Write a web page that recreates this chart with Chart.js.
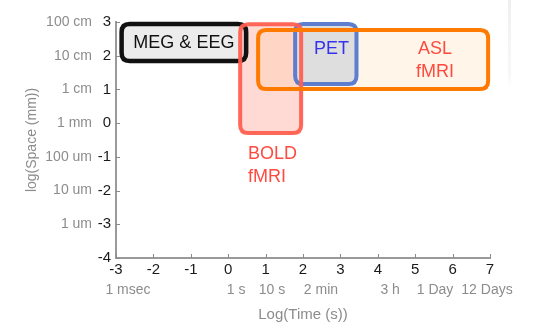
<!DOCTYPE html>
<html>
<head>
<meta charset="utf-8">
<script src="https://cdn.jsdelivr.net/npm/chart.js@4/dist/chart.umd.min.js"></script>
<style>
  html, body { margin: 0; padding: 0; background: #fff; }
  canvas { display: block; }
</style>
</head>
<body>
<canvas id="scaleChart" width="558" height="334"></canvas>
<script>
// Techniques: extent in log10(time in s) and log10(space in mm)
const techniques = ['MEG & EEG', 'BOLD fMRI', 'ASL fMRI', 'PET'];
const timeMin = [-2.85, 0.32, 0.80, 1.79];
const timeMax = [0.48, 1.95, 6.95, 3.43];
const spaceMin = [1.84, -0.29, 1.01, 1.16];
const spaceMax = [2.94, 2.93, 2.76, 2.94];

// Readable units next to the log ticks
const spaceTicks = [3, 2, 1, 0, -1, -2, -3];
const spaceNames = ['100 cm', '10 cm', '1 cm', '1 mm', '100 um', '10 um', '1 um'];
const timeNames = ['1 msec', '1 s', '10 s', '2 min', '3 h', '1 Day', '12 Days'];
const timeNamePos = [-2.68, 0.21, 1.17, 2.48, 4.33, 5.53, 6.92];

const FONT = 'Liberation Sans, Arial, sans-serif';

// look of each box and where its name goes (data units)
const boxStyle = [
  { stroke: '#111111', fill: '#ececec', width: 4.5, text: '#111111', size: 18,
    lines: [['MEG & EEG', null, null]], align: 'center' },
  { stroke: 'rgba(255,95,80,0.95)', fill: 'rgba(255,120,100,0.28)', width: 4, text: '#ff4a40', size: 18,
    lines: [['BOLD', 0.53, -0.92], ['fMRI', 0.53, -1.6]], align: 'left' },
  { stroke: '#ff7a00', fill: 'rgba(255,200,120,0.16)', width: 4, text: '#ff4a40', size: 18,
    lines: [['ASL', 5.53, 2.2], ['fMRI', 5.53, 1.52]], align: 'center' },
  { stroke: 'rgba(85,120,205,0.95)', fill: '#dedede', width: 4, text: '#3333ee', size: 18,
    lines: [['PET', 2.76, 2.2]], align: 'center' }
];
// outlines go on in this order, on top of all the fills
const strokeOrder = [0, 3, 1, 2];

function roundRect(ctx, x, y, w, h, r) {
  ctx.beginPath();
  ctx.moveTo(x + r, y);
  ctx.lineTo(x + w - r, y);
  ctx.quadraticCurveTo(x + w, y, x + w, y + r);
  ctx.lineTo(x + w, y + h - r);
  ctx.quadraticCurveTo(x + w, y + h, x + w - r, y + h);
  ctx.lineTo(x + r, y + h);
  ctx.quadraticCurveTo(x, y + h, x, y + h - r);
  ctx.lineTo(x, y + r);
  ctx.quadraticCurveTo(x, y, x + r, y);
  ctx.closePath();
}

const boxesPlugin = {
  id: 'boxes',
  afterDraw(chart) {
    const ctx = chart.ctx;
    const xs = chart.scales.x, ys = chart.scales.y;
    const boxPath = i => {
      const x0 = xs.getPixelForValue(timeMin[i]);
      const x1 = xs.getPixelForValue(timeMax[i]);
      const y0 = ys.getPixelForValue(spaceMax[i]);
      const y1 = ys.getPixelForValue(spaceMin[i]);
      roundRect(ctx, x0, y0, x1 - x0, y1 - y0, 8);
    };
    ctx.save();

    // faint shadow strip at the right edge of the figure
    const g = ctx.createLinearGradient(0, 0, 0, 95);
    g.addColorStop(0, 'rgba(235,235,235,0.8)');
    g.addColorStop(0.8, 'rgba(240,240,240,0.5)');
    g.addColorStop(1, 'rgba(255,255,255,0)');
    ctx.fillStyle = g;
    ctx.fillRect(508, 0, 3, 95);

    techniques.forEach((name, i) => {
      boxPath(i);
      ctx.fillStyle = boxStyle[i].fill;
      ctx.fill();
    });
    strokeOrder.forEach(i => {
      boxPath(i);
      ctx.lineWidth = boxStyle[i].width;
      ctx.strokeStyle = boxStyle[i].stroke;
      ctx.stroke();
    });

    // box names
    techniques.forEach((name, i) => {
      const st = boxStyle[i];
      ctx.font = st.size + 'px ' + FONT;
      ctx.fillStyle = st.text;
      ctx.textAlign = st.align;
      ctx.textBaseline = 'middle';
      st.lines.forEach(([txt, lx, ly]) => {
        const cx = lx === null ? (timeMin[i] + timeMax[i]) / 2 : lx;
        const cy = ly === null ? (spaceMin[i] + spaceMax[i]) / 2 : ly;
        ctx.fillText(txt, xs.getPixelForValue(cx), ys.getPixelForValue(cy));
      });
    });

    // inward tick marks
    ctx.strokeStyle = '#8a8a8a';
    ctx.lineWidth = 1;
    xs.ticks.forEach(t => {
      const px = Math.round(xs.getPixelForValue(t.value)) + 0.5;
      ctx.beginPath();
      ctx.moveTo(px, xs.top);
      ctx.lineTo(px, xs.top - 4);
      ctx.stroke();
    });
    ys.ticks.forEach(t => {
      const py = Math.round(ys.getPixelForValue(t.value)) + 0.5;
      ctx.beginPath();
      ctx.moveTo(ys.right, py);
      ctx.lineTo(ys.right + 4, py);
      ctx.stroke();
    });

    // unit names
    ctx.font = '14px ' + FONT;
    ctx.fillStyle = '#8c8c8c';
    ctx.textBaseline = 'middle';
    ctx.textAlign = 'right';
    spaceTicks.forEach((v, i) => {
      ctx.fillText(spaceNames[i], ys.right - 24, ys.getPixelForValue(v));
    });
    ctx.textAlign = 'center';
    timeNames.forEach((txt, i) => {
      ctx.fillText(txt, xs.getPixelForValue(timeNamePos[i]), xs.top + 32);
    });
    ctx.restore();
  }
};

new Chart(document.getElementById('scaleChart'), {
  type: 'scatter',
  data: { datasets: [{ data: [] }] },
  options: {
    responsive: false,
    animation: false,
    layout: { padding: { top: 22, right: 68, left: 0, bottom: 0 } },
    plugins: { legend: { display: false }, tooltip: { enabled: false } },
    scales: {
      x: {
        type: 'linear',
        min: -3,
        max: 7,
        afterFit: s => { s.height = 76; },
        ticks: { stepSize: 1, color: '#1a1a1a', font: { family: FONT, size: 15 }, padding: 3 },
        grid: { drawOnChartArea: false, drawTicks: false },
        border: { color: '#9a9a9a', width: 2 },
        title: {
          display: true,
          text: 'Log(Time (s))',
          color: '#8c8c8c',
          font: { family: FONT, size: 15 },
          padding: { top: 0, bottom: 10 }
        }
      },
      y: {
        type: 'linear',
        min: -4,
        max: 3,
        afterFit: s => { s.width = 116; },
        ticks: { stepSize: 1, color: '#1a1a1a', font: { family: FONT, size: 15 }, padding: 5 },
        grid: { drawOnChartArea: false, drawTicks: false },
        border: { color: '#9a9a9a', width: 2 },
        title: {
          display: true,
          text: 'log(Space (mm))',
          color: '#8c8c8c',
          font: { family: FONT, size: 14 },
          padding: { top: 24, bottom: 0 }
        }
      }
    }
  },
  plugins: [boxesPlugin]
});
</script>
</body>
</html>
